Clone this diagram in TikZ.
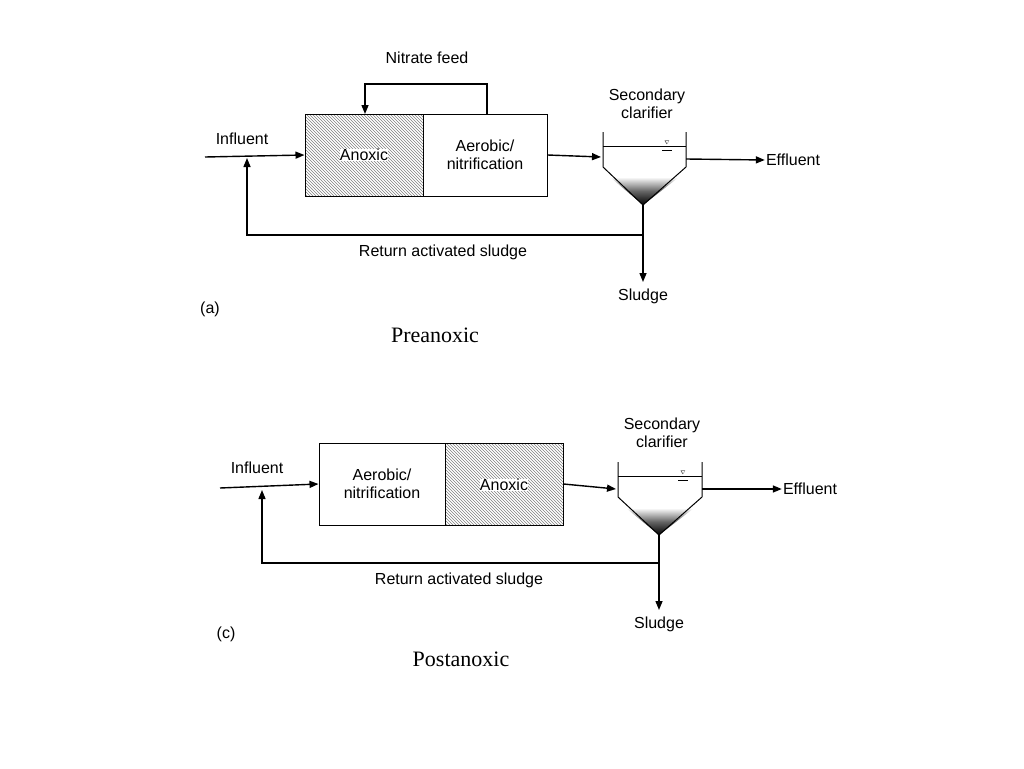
\documentclass[tikz,border=0pt]{standalone}
\usepackage{fontspec}
\setmainfont{Liberation Serif}
\newfontfamily\sff{Liberation Sans}
\usetikzlibrary{patterns,arrows.meta}
\begin{document}
\begin{tikzpicture}[x=1pt,y=-1pt,
  lbl/.style={font=\sff\fontsize{16}{18}\selectfont,align=center,inner sep=1pt},
  captxt/.style={font=\fontsize{22}{24}\selectfont},
  box/.style={draw,line width=1pt,minimum height=82pt,inner sep=0pt},
  hatch/.style={pattern=north west lines,pattern color=gray},
  flow/.style={line width=1.4pt,-{Triangle[length=9pt,width=7pt]}},
  pipe/.style={line width=1.4pt}]
\useasboundingbox (0,0) rectangle (1024,768);
% ---------- (a) ----------
\node[box,hatch,minimum width=118pt] (anx1) at (364,155) {};
\node[lbl,fill=white,inner sep=0pt] at (364,155) {Anoxic};
\node[box,minimum width=124pt,lbl] (aer1) at (485,155) {Aerobic/\\nitrification};
\shade[top color=white,bottom color=black,middle color=black!60] (610,177) -- (679,177) -- (643,205) -- cycle;
\draw[line width=1pt] (603,132) -- (603,167) -- (643,205) -- (686,167) -- (686,132);
\draw[line width=0.8pt] (603,146) -- (686,146);
\node[inner sep=0pt] at (667,143) {\tiny$\nabla$};
\draw[line width=0.8pt] (662,150) -- (672,150);
\coordinate (tip1) at (643,205);
\node[lbl] (nf) at (427,58) {Nitrate feed};
\node[lbl] (inf1) at (242,139) {Influent};
\node[lbl] (sc1) at (647,104) {Secondary\\clarifier};
\node[lbl] (eff1) at (793,160) {Effluent};
\node[lbl] (rs1) at (443,252) {Return activated sludge};
\node[lbl] (sl1) at (643,296) {Sludge};
\node[lbl] at (210,309) {(a)};
\node[captxt] at (435,335) {Preanoxic};
\coordinate (in1) at (205,157);
\draw[flow] (in1) -- (anx1.west);
\draw[flow] (487,114) -- (487,84) -| (365,114);
\draw[flow] (aer1.east) -- (601,157);
\draw[flow] (686,159) -- (eff1.west);
\coordinate (j1) at (643,235);
\draw[flow] (tip1) -- (643,282);
\draw[flow] (j1) -- (247,235) -- (247,158);
% ---------- (c) ----------
\node[box,minimum width=126pt,lbl] (aer2) at (382,484) {Aerobic/\\nitrification};
\node[box,hatch,minimum width=118pt] (anx2) at (504,484) {};
\node[lbl,fill=white,inner sep=0pt] at (504,485) {Anoxic};
\shade[top color=white,bottom color=black,middle color=black!60] (626,508) -- (694,508) -- (659,535) -- cycle;
\draw[line width=1pt] (618,462) -- (618,497) -- (659,535) -- (702,497) -- (702,462);
\draw[line width=0.8pt] (618,476) -- (702,476);
\node[inner sep=0pt] at (683,473) {\tiny$\nabla$};
\draw[line width=0.8pt] (678,480) -- (688,480);
\coordinate (tip2) at (659,535);
\node[lbl] (inf2) at (257,468) {Influent};
\node[lbl] (sc2) at (662,433) {Secondary\\clarifier};
\node[lbl] (eff2) at (810,489) {Effluent};
\node[lbl] (rs2) at (459,580) {Return activated sludge};
\node[lbl] (sl2) at (659,624) {Sludge};
\node[lbl] at (226,634) {(c)};
\node[captxt] at (461,659) {Postanoxic};
\coordinate (in2) at (220,488);
\draw[flow] (in2) -- (aer2.west);
\draw[flow] (anx2.east) -- (616,489);
\draw[flow] (702,489) -- (eff2.west);
\coordinate (j2) at (659,563);
\draw[flow] (tip2) -- (659,610);
\draw[flow] (j2) -- (262,563) -- (262,490);
\end{tikzpicture}
\end{document}
